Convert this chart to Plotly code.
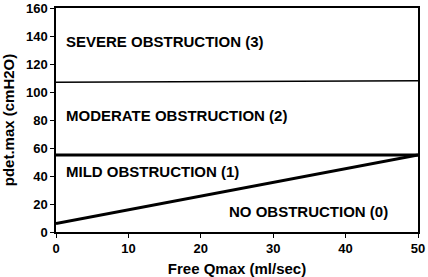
import plotly.graph_objects as go

# Boundary lines (Free Qmax vs pdet.max)
qmax_ends = [0, 50]
severe_boundary = [107, 108]
mild_boundary = [55, 55]
no_obstr_boundary = [6, 55]

zone_labels = ["SEVERE OBSTRUCTION (3)", "MODERATE OBSTRUCTION (2)",
               "MILD OBSTRUCTION (1)", "NO OBSTRUCTION (0)"]
label_x = [1.1, 1.1, 1.1, 23.6]
label_y = [136, 83, 43, 15]

x_ticks = [0, 10, 20, 30, 40, 50]
y_ticks = [0, 20, 40, 60, 80, 100, 120, 140, 160]

FONT = "Liberation Sans, Arial"

fig = go.Figure()
fig.add_trace(go.Scatter(x=qmax_ends, y=severe_boundary, mode="lines",
                         line=dict(color="black", width=1.6), hoverinfo="skip"))
fig.add_trace(go.Scatter(x=qmax_ends, y=mild_boundary, mode="lines",
                         line=dict(color="black", width=3), hoverinfo="skip"))
fig.add_trace(go.Scatter(x=qmax_ends, y=no_obstr_boundary, mode="lines",
                         line=dict(color="black", width=3), hoverinfo="skip"))

for t, x, y in zip(zone_labels, label_x, label_y):
    fig.add_annotation(x=x, y=y, text="<b>%s</b>" % t, showarrow=False,
                       xanchor="left", yanchor="middle",
                       font=dict(family=FONT, size=15, color="black"))

axis_common = dict(showgrid=False, zeroline=False, showline=True, linecolor="black",
                   linewidth=1.5, mirror=True, ticks="outside", ticklen=4,
                   tickcolor="black", tickwidth=1.2, automargin=False,
                   tickfont=dict(family=FONT, size=13, color="black"))

fig.update_xaxes(range=[0, 50], tickvals=x_ticks,
                 ticktext=["<b>%d</b>" % v for v in x_ticks],
                 title=dict(text="<b>Free Qmax (ml/sec)</b>",
                            font=dict(family=FONT, size=15, color="black")),
                 **axis_common)
fig.update_yaxes(range=[0, 160], tickvals=y_ticks,
                 ticktext=["<b>%d</b>" % v for v in y_ticks],
                 title=dict(text="<b>pdet.max (cmH2O)</b>",
                            font=dict(family=FONT, size=15, color="black")),
                 **axis_common)

fig.update_layout(width=428, height=277, showlegend=False,
                  margin=dict(l=56, r=10, t=8, b=45),
                  plot_bgcolor="white", paper_bgcolor="white")

fig.write_html("out.html", config={"displayModeBar": False},
               post_script="document.body.style.margin='0';document.body.style.overflow='hidden';")
